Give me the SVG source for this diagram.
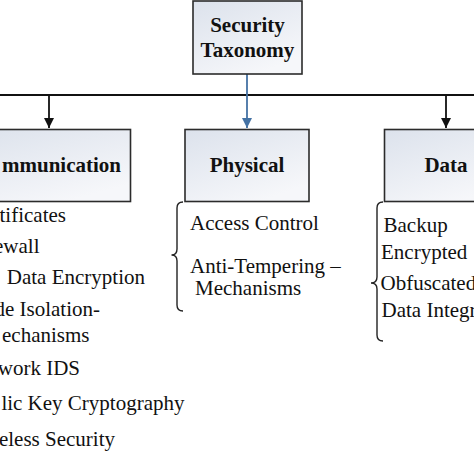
<svg xmlns="http://www.w3.org/2000/svg" width="474" height="474" viewBox="0 0 474 474">
<defs>
<linearGradient id="g" x1="0" y1="0" x2="0.6" y2="1">
<stop offset="0" stop-color="#dce2ec"/>
<stop offset="1" stop-color="#f6f7fa"/>
</linearGradient>
<marker id="ab" markerWidth="10" markerHeight="10" refX="10" refY="5" orient="auto" markerUnits="userSpaceOnUse" viewBox="0 0 10 10">
<path d="M0,0 L10,5 L0,10 Z" fill="#111"/>
</marker>
<marker id="abl" markerWidth="10" markerHeight="10" refX="10" refY="5" orient="auto" markerUnits="userSpaceOnUse" viewBox="0 0 10 10">
<path d="M0,0 L10,5 L0,10 Z" fill="#4472a4"/>
</marker>
</defs>
<style>
.box{fill:url(#g);stroke:#2b2b2b;stroke-width:1.6}
.t{font-family:"Liberation Serif","Times New Roman",serif;font-size:21px;fill:#111}
.b{font-family:"Liberation Serif","Times New Roman",serif;font-size:21px;font-weight:bold;fill:#111}
.br{fill:none;stroke:#222;stroke-width:1.4}
.ln{fill:none;stroke:#111;stroke-width:1.8}
</style>
<rect width="474" height="474" fill="#fff"/>
<g id="connectors">
<line class="ln" x1="0" y1="95" x2="474" y2="95"/>
<line x1="247" y1="74" x2="247" y2="128" stroke="#4472a4" stroke-width="1.8" marker-end="url(#abl)"/>
<line class="ln" x1="49" y1="95" x2="49" y2="128" marker-end="url(#ab)"/>
<line class="ln" x1="446" y1="95" x2="446" y2="128" marker-end="url(#ab)"/>
</g>
<g id="root">
<rect class="box" x="193" y="1" width="109" height="73"/>
<text class="b" x="247.5" y="32" text-anchor="middle">Security</text>
<text class="b" x="247.5" y="57" text-anchor="middle">Taxonomy</text>
</g>
<g id="communication">
<rect class="box" x="-30" y="129.5" width="160.5" height="72"/>
<text class="b" x="121" y="172" text-anchor="end">mmunication</text>
<text class="t" x="66" y="222" text-anchor="end">tificates</text>
<text class="t" x="39.5" y="253" text-anchor="end">ewall</text>
<text class="t" x="145" y="284" text-anchor="end">Data Encryption</text>
<text class="t" x="100" y="316" text-anchor="end">de Isolation-</text>
<text class="t" x="89.5" y="341.5" text-anchor="end">echanisms</text>
<text class="t" x="80" y="375" text-anchor="end">work IDS</text>
<text class="t" x="184.5" y="410" text-anchor="end">lic Key Cryptography</text>
<text class="t" x="115" y="446" text-anchor="end">eless Security</text>
</g>
<g id="physical">
<rect class="box" x="185" y="129.5" width="124" height="72"/>
<text class="b" x="247" y="172" text-anchor="middle">Physical</text>
<path class="br" d="M183,202 Q177,202 177,208 L177,249 Q177,255 171.5,255 Q177,255 177,261 L177,305 Q177,311 183,311"/>
<text class="t" x="190" y="230">Access Control</text>
<text class="t" x="190" y="273">Anti-Tempering –</text>
<text class="t" x="195" y="295">Mechanisms</text>
</g>
<g id="data">
<rect class="box" x="384.5" y="129.5" width="124" height="72"/>
<text class="b" x="446" y="172" text-anchor="middle">Data</text>
<path class="br" d="M383,202 Q377,202 377,208 L377,277 Q377,283 371,283 Q377,283 377,289 L377,335 Q377,341 383,341"/>
<text class="t" x="383.5" y="232">Backup</text>
<text class="t" x="381" y="258.5">Encrypted</text>
<text class="t" x="380.5" y="290">Obfuscated</text>
<text class="t" x="381.5" y="317">Data Integrity</text>
</g>
</svg>
